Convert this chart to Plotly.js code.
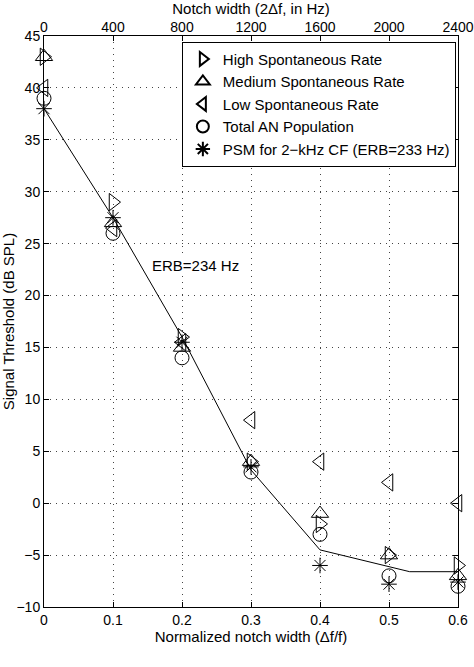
<!DOCTYPE html>
<html><head><meta charset="utf-8">
<script src="https://cdn.plot.ly/plotly-3.0.1.min.js"></script>
<style>html,body{margin:0;padding:0;background:#fff}#g{width:474px;height:667px}</style>
</head><body><div id="g"></div>
<script>
const xNorm = [0, 0.1, 0.2, 0.3, 0.4, 0.5, 0.6];
const highSR = [43, 29, 16, 4, -2, -5, -6];
const medSR = [43, 27, 15, 4, -1, -5, -7];
const lowSR = [40, 26.5, 15.5, 8, 4, 2, 0];
const totalAN = [39, 26, 14, 3, -3, -7, -8];
const psm = [38, 27.5, 15.5, 3.5, -6, -7.8, -7.6];
const lineX = [0, 0.1, 0.2, 0.3, 0.4, 0.53, 0.6];
const lineY = [38, 27.5, 16, 3.2, -4.5, -6.6, -6.6];
const topTicks = [0, 400, 800, 1200, 1600, 2000, 2400];
const names = ['High Spontaneous Rate','Medium Spontaneous Rate','Low Spontaneous Rate','Total AN Population','PSM for 2\u2212kHz CF (ERB=233 Hz)'];

const mk = (y, sym, name, size) => ({x: xNorm, y: y, mode: 'markers', name: name, type: 'scatter',
  marker: {symbol: sym, size: size, color: '#000', line: {color: '#000', width: 1}}, cliponaxis: false});
const data = [
  {x: lineX, y: lineY, mode: 'lines', line: {color: '#000', width: 1}, showlegend: false, type: 'scatter'},
  mk(highSR, 'triangle-right-open', names[0], 15),
  mk(medSR, 'triangle-up-open', names[1], 15),
  mk(lowSR, 'triangle-left-open', names[2], 15),
  mk(totalAN, 'circle-open', names[3], 14),
  mk(psm, 'asterisk-open', names[4], 13),
  {x: topTicks, y: [null,null,null,null,null,null,null], xaxis: 'x2', mode: 'markers', showlegend: false, type: 'scatter'}
];
const font = {family: 'Liberation Sans, Arial, sans-serif', size: 14, color: '#000'};
const layout = {
  width: 474, height: 667,
  margin: {l: 44, r: 16, t: 36, b: 60},
  font: font,
  paper_bgcolor: '#fff', plot_bgcolor: '#fff',
  xaxis: {range: [0, 0.6], tickvals: xNorm, ticktext: xNorm.map(v => v === 0 ? '0' : String(v)),
    showline: true, linecolor: '#000', linewidth: 1, mirror: 'ticks', ticks: 'inside', ticklen: 5, tickcolor: '#000',
    showgrid: true, gridcolor: '#444', griddash: '1px,5px', gridwidth: 1, zeroline: false,
    title: {text: 'Normalized notch width (\u0394f/f)', font: {size: 15}, standoff: 2}},
  xaxis2: {range: [0, 2400], overlaying: 'x', side: 'top', tickvals: topTicks, ticks: 'inside', ticklen: 5, tickcolor: '#000',
    showgrid: false, zeroline: false, showline: false,
    title: {text: 'Notch width (2\u0394f, in Hz)', font: {size: 15}, standoff: 2}},
  yaxis: {range: [-10, 45], dtick: 5, showline: true, linecolor: '#000', linewidth: 1, mirror: 'ticks', ticks: 'inside', ticklen: 5, tickcolor: '#000',
    showgrid: true, gridcolor: '#444', griddash: '1px,5px', gridwidth: 1, zeroline: false,
    title: {text: 'Signal Threshold (dB SPL)', font: {size: 15}, standoff: 4}},
  legend: {x: 0.333, y: 0.99, xanchor: 'left', yanchor: 'top', bgcolor: '#fff', bordercolor: '#000', borderwidth: 1,
    font: {size: 15}, tracegroupgap: 0, itemsizing: 'constant'},
  annotations: [{x: 0.154, y: 22.9, xref: 'x', yref: 'y', text: 'ERB=234 Hz', showarrow: false, xanchor: 'left', font: {size: 15}, bgcolor: '#fff'}]
};
Plotly.newPlot('g', data, layout, {displayModeBar: false, staticPlot: true});
</script></body></html>
